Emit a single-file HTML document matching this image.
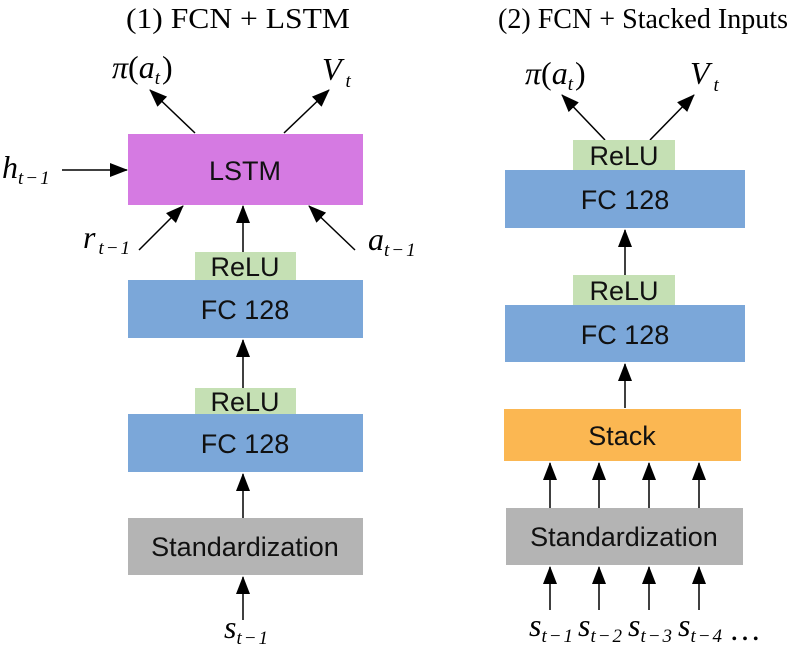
<!DOCTYPE html>
<html><head><meta charset="utf-8"><style>
html,body{margin:0;padding:0;background:#fff;}
svg text{font-family:"Liberation Sans",sans-serif;}
.m{font-family:"Liberation Serif",serif;font-style:italic;font-size:32px;}
.s{font-family:"Liberation Serif",serif;font-style:italic;font-size:19px;letter-spacing:2px;}
.u{font-style:normal;}
.t{font-family:"Liberation Serif",serif;font-size:29px;}
.b{font-size:27px;fill:#111;}
</style></head><body>
<svg width="791" height="648" viewBox="0 0 791 648" xmlns="http://www.w3.org/2000/svg">
<defs><marker id="A" markerWidth="18" markerHeight="14" refX="17" refY="7" orient="auto" markerUnits="userSpaceOnUse"><path d="M0,0 L18,7 L0,14 z" fill="#000"/></marker></defs>
<text class="t" x="126" y="28" textLength="224" lengthAdjust="spacingAndGlyphs">(1) FCN + LSTM</text>
<text class="t" x="498" y="28" textLength="290" lengthAdjust="spacingAndGlyphs">(2) FCN + Stacked Inputs</text>
<g stroke="#000" stroke-width="1.5" marker-end="url(#A)">
<line x1="195" y1="133" x2="150" y2="90"/>
<line x1="284" y1="133" x2="329" y2="90"/>
<line x1="62" y1="170" x2="127" y2="170"/>
<line x1="139" y1="250" x2="183" y2="206"/>
<line x1="355" y1="250" x2="309" y2="206"/>
<line x1="243" y1="252" x2="243" y2="206"/>
<line x1="243" y1="388" x2="243" y2="340"/>
<line x1="243" y1="518" x2="243" y2="474"/>
<line x1="243" y1="620" x2="243" y2="577"/>
<line x1="605" y1="140" x2="562" y2="95"/>
<line x1="650" y1="140" x2="694" y2="95"/>
<line x1="625" y1="275" x2="625" y2="230"/>
<line x1="625" y1="408" x2="625" y2="364"/>
<line x1="550" y1="508" x2="550" y2="463"/><line x1="599" y1="508" x2="599" y2="463"/><line x1="649" y1="508" x2="649" y2="463"/><line x1="699" y1="508" x2="699" y2="463"/>
<line x1="550" y1="610" x2="550" y2="567"/><line x1="599" y1="610" x2="599" y2="567"/><line x1="649" y1="610" x2="649" y2="567"/><line x1="699" y1="610" x2="699" y2="567"/>
</g>
<rect x="128" y="134" width="235" height="71" fill="#d57ae2"/>
<text class="b" x="245" y="180" text-anchor="middle">LSTM</text>
<rect x="195" y="252" width="101" height="28" fill="#c5e0b4"/><text class="b" x="245" y="276" text-anchor="middle">ReLU</text>
<rect x="128" y="280" width="235" height="58" fill="#7ba7d9"/><text class="b" x="245" y="319" text-anchor="middle">FC 128</text>
<rect x="195" y="388" width="101" height="26" fill="#c5e0b4"/><text class="b" x="245" y="411" text-anchor="middle">ReLU</text>
<rect x="128" y="414" width="235" height="58" fill="#7ba7d9"/><text class="b" x="245" y="453" text-anchor="middle">FC 128</text>
<rect x="128" y="518" width="235" height="57" fill="#b4b4b4"/><text class="b" x="245" y="556" text-anchor="middle">Standardization</text>
<rect x="573" y="140" width="102" height="30" fill="#c5e0b4"/><text class="b" x="624" y="165" text-anchor="middle">ReLU</text>
<rect x="505" y="170" width="240" height="58" fill="#7ba7d9"/><text class="b" x="625" y="209" text-anchor="middle">FC 128</text>
<rect x="573" y="275" width="102" height="30" fill="#c5e0b4"/><text class="b" x="624" y="300" text-anchor="middle">ReLU</text>
<rect x="505" y="305" width="240" height="57" fill="#7ba7d9"/><text class="b" x="625" y="344" text-anchor="middle">FC 128</text>
<rect x="504" y="409" width="237" height="52" fill="#fbb752"/><text class="b" x="622" y="445" text-anchor="middle">Stack</text>
<rect x="506" y="508" width="237" height="57" fill="#b4b4b4"/><text class="b" x="624" y="546" text-anchor="middle">Standardization</text>
<text class="m" x="112" y="78">π<tspan class="u">(</tspan>a<tspan class="s" dy="6">t</tspan><tspan class="u" dy="-6">)</tspan></text>
<text class="m" x="322" y="80">V<tspan class="s" dy="7" dx="4">t</tspan></text>
<text class="m" x="525" y="84">π<tspan class="u">(</tspan>a<tspan class="s" dy="6">t</tspan><tspan class="u" dy="-6">)</tspan></text>
<text class="m" x="690" y="84">V<tspan class="s" dy="7" dx="4">t</tspan></text>
<text class="m" x="2" y="178">h<tspan class="s" dy="6">t−1</tspan></text>
<text class="m" x="83" y="248">r<tspan class="s" dy="6" dx="3">t−1</tspan></text>
<text class="m" x="368" y="250">a<tspan class="s" dy="6">t−1</tspan></text>
<text class="m" x="224" y="638">s<tspan class="s" dy="6">t−1</tspan></text>
<text class="m" x="529" y="636">s<tspan class="s" dy="6">t−1</tspan></text>
<text class="m" x="578" y="636">s<tspan class="s" dy="6">t−2</tspan></text>
<text class="m" x="628" y="636">s<tspan class="s" dy="6">t−3</tspan></text>
<text class="m" x="678" y="636">s<tspan class="s" dy="6">t−4</tspan></text>
<text class="m u" x="729" y="640">…</text>
</svg>
</body></html>
